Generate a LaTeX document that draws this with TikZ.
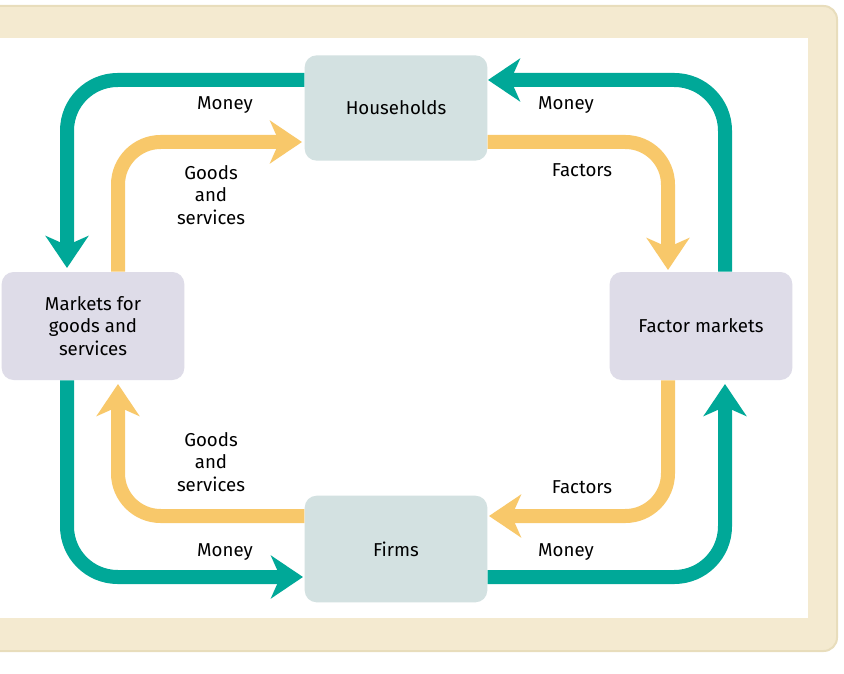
\documentclass[tikz,border=0pt]{standalone}
\usepackage{fontspec}
\setmainfont{Fira Sans}
\usetikzlibrary{arrows.meta}
\definecolor{teal1}{HTML}{00A898}
\definecolor{yel}{HTML}{F8C86A}
\definecolor{beige}{HTML}{F4EAD0}
\definecolor{beiged}{HTML}{E8DDBC}
\definecolor{hbox}{HTML}{D3E1E1}
\definecolor{mbox}{HTML}{DEDCE8}
\begin{document}
\begin{tikzpicture}[x=0.75pt,y=-0.75pt,
  box/.style={rounded corners=9pt,inner sep=0pt,align=center,font=\fontsize{14}{17}\selectfont},
  flowT/.style={draw=teal1,line width=10.5pt,rounded corners=38pt,-{Stealth[length=24pt,width=32pt,inset=7pt]}},
  flowY/.style={draw=yel,line width=10.5pt,rounded corners=32pt,-{Stealth[length=24pt,width=32pt,inset=7pt]}},
  lab/.style={align=center,font=\fontsize{14}{17}\selectfont}]
\useasboundingbox (0,0) rectangle (844,674);
\fill[beige,draw=beiged,line width=1.5pt,rounded corners=10pt] (-30,6) rectangle (837,651);
\fill[white] (0,38) rectangle (808,618);
\node[box,fill=hbox,minimum width=137pt,minimum height=79pt] (hh) at (396,108) {Households};
\node[box,fill=hbox,minimum width=137pt,minimum height=80pt] (ff) at (396,549) {Firms};
\node[box,fill=mbox,minimum width=137pt,minimum height=81pt] (mg) at (93,326) {Markets for\\goods and\\services};
\node[box,fill=mbox,minimum width=137pt,minimum height=81pt] (fm) at (701,326) {Factor markets};
\coordinate (a1) at (67,80); \coordinate (a2) at (725,80);
\coordinate (a3) at (67,577); \coordinate (a4) at (725,577);
\draw[flowT] (hh.west |- a1) -- (a1) -- (67,268);
\draw[flowT] (fm.north -| a2) -- (a2) -- (488,80);
\draw[flowT] (mg.south -| a3) -- (a3) -- (303,577);
\draw[flowT] (ff.east |- a4) -- (a4) -- (725,384);
\coordinate (b1) at (118,142); \coordinate (b2) at (668,142);
\coordinate (b3) at (118,516); \coordinate (b4) at (668,516);
\draw[flowY] (mg.north -| b1) -- (b1) -- (302,142);
\draw[flowY] (hh.east |- b2) -- (b2) -- (668,270);
\draw[flowY] (fm.south -| b4) -- (b4) -- (489,516);
\draw[flowY] (ff.west |- b3) -- (b3) -- (118,384);
\node[lab] (m1) at (225,105) {Money};
\node[lab] (m2) at (566,105) {Money};
\node[lab] (m3) at (225,552) {Money};
\node[lab] (m4) at (566,552) {Money};
\node[lab] (g1) at (211,195) {Goods\\and\\services};
\node[lab] (g2) at (211,462) {Goods\\and\\services};
\node[lab] (f1) at (582,170) {Factors};
\node[lab] (f2) at (582,487) {Factors};
\end{tikzpicture}
\end{document}
